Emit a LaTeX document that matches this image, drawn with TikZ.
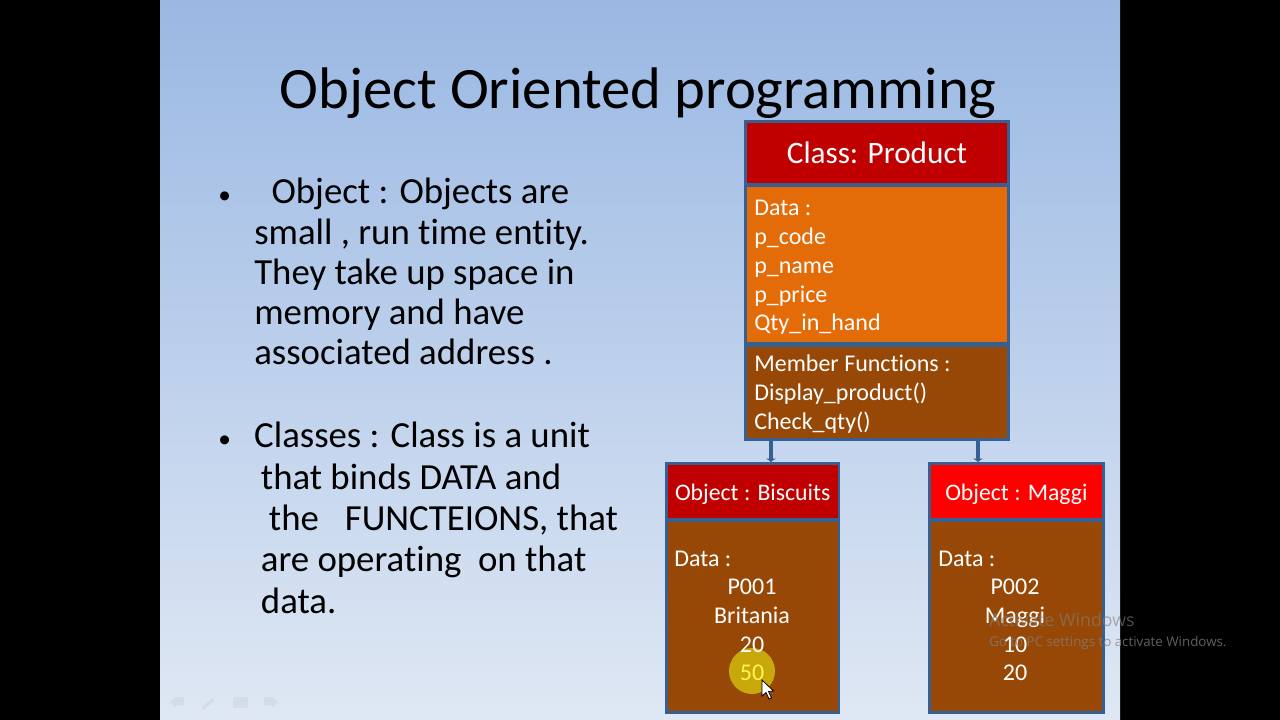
\documentclass[tikz,border=0pt]{standalone}
\usepackage{fontspec}
\usepackage{xcolor}
\setmainfont{Carlito}[Ligatures=NoCommon]
\newfontfamily\winfont{Open Sans}
\definecolor{slidetop}{HTML}{9AB8E3}
\definecolor{slidebot}{HTML}{DFE8F4}
\definecolor{boxline}{HTML}{376092}
\definecolor{headdark}{HTML}{C00000}
\definecolor{headred}{HTML}{FF0000}
\definecolor{dataorange}{HTML}{E36C09}
\definecolor{bodybrown}{HTML}{974806}
\definecolor{markyellow}{HTML}{C9A80C}
\newcommand{\smallbullet}{{\fontsize{19}{19}\selectfont\textbullet}}
\tikzset{
  boxpart/.style={draw=boxline,line width=2pt,anchor=north west,inner sep=0pt,text=white},
  bodytext/.style={anchor=north west,inner sep=0pt,align=left,text=black},
  whitetext/.style={anchor=north west,inner sep=0pt,align=left,text=white},
  valuetext/.style={anchor=north,inner sep=0pt,align=center,text=white},
  tolink/.style={draw=boxline,line width=3.4pt,-{Latex[length=2.5pt,width=8pt]}},
  navicon/.style={fill=black!35!slidebot,opacity=0.12},
}
\usetikzlibrary{arrows.meta}
\begin{document}
\begin{tikzpicture}[x=0.75pt,y=-0.75pt]
\fill[black] (0,0) rectangle (1280,720);
\shade[top color=slidetop,bottom color=slidebot] (160,0) rectangle (1120,720);

\node[anchor=base,inner sep=0pt,font=\fontsize{44}{52}\selectfont] (title) at (638,109) {Object Oriented programming};

% left text
\node[bodytext,font=\fontsize{27.6}{30.2}\selectfont] (objtext) at (218,178) {\smallbullet\hspace*{30.5pt}Object : Objects are\\
\hspace*{27pt}small , run time entity.\\
\hspace*{27pt}They take up space in\\
\hspace*{27pt}memory and have\\
\hspace*{27pt}associated address .};
\node[bodytext,font=\fontsize{27.6}{31}\selectfont] (clstext) at (218,422) {\smallbullet\hspace*{17.5pt}Classes : Class is a unit\\
\hspace*{32pt}that binds DATA and\\
\hspace*{38pt}the\hspace*{19.5pt}FUNCTEIONS, that\\
\hspace*{32pt}are operating\ \ on that\\
\hspace*{32pt}data.};

% class box
\node[boxpart,fill=headdark,minimum width=197.5pt,minimum height=47pt,font=\fontsize{23.4}{28}\selectfont] (classhead) at (744,120) {Class: Product};
\node[boxpart,fill=dataorange,minimum width=197.5pt,minimum height=118.5pt] (classdata) at (744,184) {};
\node[boxpart,fill=bodybrown,minimum width=197.5pt,minimum height=70.5pt] (classfunc) at (744,344) {};
\node[whitetext,font=\fontsize{18}{21.6}\selectfont] (datatext) at (754,200) {Data :\\p\_code\\p\_name\\p\_price\\Qty\_in\_hand};
\node[whitetext,font=\fontsize{18}{21.6}\selectfont] (functext) at (754,355) {Member Functions :\\Display\_product()\\Check\_qty()};

% object boxes
\node[boxpart,fill=headdark,minimum width=129.5pt,minimum height=42pt,font=\fontsize{17.8}{22}\selectfont] (bishead) at (665,462) {\raisebox{-2.2pt}[\height][\depth]{Object : Biscuits}};
\node[boxpart,fill=bodybrown,minimum width=129.5pt,minimum height=143.5pt] (bisbody) at (665,519.5) {};
\node[boxpart,fill=headred,minimum width=130.5pt,minimum height=42pt,font=\fontsize{17.8}{22}\selectfont] (maghead) at (928,462) {\raisebox{-2.2pt}[\height][\depth]{Object : Maggi}};
\node[boxpart,fill=bodybrown,minimum width=130.5pt,minimum height=143.5pt] (magbody) at (928,519.5) {};

\draw[tolink] (771,0 |- classfunc.south) -- (771,0 |- bishead.north);
\draw[tolink] (978,0 |- classfunc.south) -- (978,0 |- maghead.north);

% pointer mark
\fill[markyellow] (752,671) circle [radius=23];
\node[whitetext,font=\fontsize{18}{21.5}\selectfont] (bisdata) at (674,551) {Data :};
\node[valuetext,font=\fontsize{18}{21.5}\selectfont] (bisvals) at (752,579) {P001\\Britania\\20\\\textcolor{yellow!70!white}{50}};
\node[whitetext,font=\fontsize{18}{21.5}\selectfont] (magdata) at (938,551) {Data :};
\node[valuetext,font=\fontsize{18}{21.5}\selectfont] (magvals) at (1015,579) {P002\\Maggi\\10\\20};
\draw[fill=white,draw=black,line width=0.6pt] (762,680) -- (762,696) -- (766,692.5) -- (769,699) -- (771.5,698) -- (768.5,691.5) -- (773.5,691) -- cycle;

% faded windows note and slide buttons
\node[anchor=base west,inner sep=0pt,text=gray,opacity=0.6,font=\winfont\fontsize{13.3}{15}\selectfont] (winone) at (989,626) {Activate Windows};
\node[anchor=base west,inner sep=0pt,text=gray,opacity=0.75,font=\winfont\fontsize{10}{12}\selectfont] (wintwo) at (989,646) {Go to PC settings to activate Windows.};
\fill[navicon] (170,702) -- (176,697) -- (184,697) -- (184,705) -- (176,705) -- (176,708) -- cycle;
\fill[navicon] (201,708) -- (212,698) -- (215,700) -- (204,710) -- cycle;
\fill[navicon] (233,697) rectangle (248,708);
\fill[navicon] (278,702) -- (272,697) -- (264,697) -- (264,705) -- (272,705) -- (272,708) -- cycle;
\end{tikzpicture}
\end{document}
